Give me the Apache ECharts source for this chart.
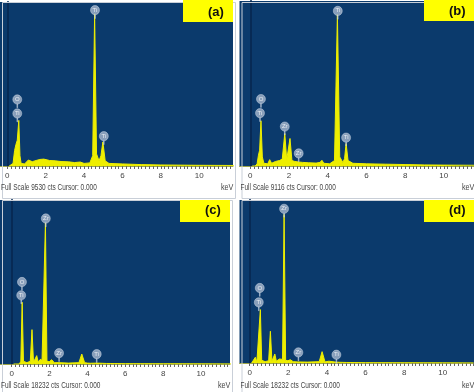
<!DOCTYPE html>
<html>
<head>
    <meta charset="utf-8">
    <title>EDS spectra</title>
    <script src="https://cdn.jsdelivr.net/npm/echarts@6/dist/echarts.min.js"></script>
    <style>
        html, body { margin: 0; padding: 0; background: #fff; }
    </style>
</head>
<body>
    <div id="main" style="width: 474px;height:392px;"></div>
    <script type="text/javascript">
        // 4 EDS spectra, x = keV, y = counts
        var panelNames = ['(a)', '(b)', '(c)', '(d)'];
        var fullScale = [9530, 9116, 18232, 18232];

        var energyA = [0.1, 0.2, 0.3, 0.38, 0.45, 0.52, 0.6, 0.66, 0.72, 0.9, 1.1, 1.3, 1.5, 1.7, 1.9, 2.0, 2.2, 2.5, 2.8, 3.2, 3.5, 3.8, 4.0, 4.3, 4.45, 4.55, 4.65, 4.78, 4.88, 4.98, 5.1, 5.3, 6, 7, 8, 9, 10, 11.8];
        var countsA = [0, 0, 150, 900, 1250, 1500, 2650, 600, 150, 120, 350, 250, 320, 380, 400, 450, 320, 300, 260, 240, 200, 230, 150, 180, 600, 8850, 700, 300, 600, 1400, 300, 150, 120, 80, 60, 50, 40, 30];

        var energyB = [0.1, 0.25, 0.35, 0.42, 0.48, 0.55, 0.62, 0.7, 0.9, 1.0, 1.1, 1.3, 1.5, 1.65, 1.78, 1.88, 1.96, 2.05, 2.15, 2.3, 2.5, 2.7, 3.0, 3.4, 3.6, 3.7, 3.8, 4.1, 4.35, 4.5, 4.62, 4.78, 4.87, 4.95, 5.05, 5.3, 6, 7, 8, 9, 10, 11.6];
        var countsB = [0, 0, 120, 600, 870, 2500, 500, 150, 120, 350, 150, 250, 300, 380, 1795, 350, 300, 1520, 300, 250, 220, 200, 180, 160, 200, 315, 150, 120, 300, 8375, 500, 200, 400, 1240, 300, 150, 120, 100, 80, 60, 50, 40];

        var energyC = [0.1, 0.4, 0.48, 0.55, 0.62, 0.8, 0.98, 1.07, 1.15, 1.24, 1.32, 1.4, 1.47, 1.53, 1.6, 1.7, 1.78, 1.86, 1.98, 2.11, 2.25, 2.5, 3.0, 3.55, 3.7, 3.85, 4.0, 4.05, 4.15, 4.5, 5, 6, 8, 10, 11.6];
        var countsC = [0, 0, 300, 6870, 300, 150, 300, 3820, 200, 250, 930, 200, 300, 560, 300, 400, 15700, 300, 250, 480, 150, 150, 100, 150, 1110, 150, 100, 250, 80, 100, 60, 40, 30, 20, 10];

        var energyD = [0.1, 0.2, 0.29, 0.37, 0.47, 0.55, 0.62, 0.8, 0.98, 1.07, 1.15, 1.24, 1.3, 1.38, 1.47, 1.54, 1.62, 1.7, 1.78, 1.86, 1.98, 2.1, 2.25, 2.5, 3.0, 3.6, 3.75, 3.9, 4.0, 4.1, 4.2, 4.5, 5, 6, 8, 10, 11.6];
        var countsD = [0, 0, 640, 100, 250, 5975, 300, 150, 250, 3550, 200, 250, 1010, 200, 250, 450, 250, 400, 16620, 300, 250, 375, 150, 120, 100, 150, 1270, 120, 100, 200, 80, 90, 60, 40, 30, 20, 10];

        // peak markers: keV, counts, element
        var peakKevA = [0.52, 0.52, 4.57, 5.03];
        var peakCtsA = [3875, 3060, 9065, 1743];
        var peakElA = ['O', 'Ti', 'Ti', 'Ti'];

        var peakKevB = [0.55, 0.5, 1.78, 2.5, 4.52, 4.95];
        var peakCtsB = [3707, 2929, 2186, 705, 8577, 1574];
        var peakElB = ['O', 'Ti', 'Zr', 'Zr', 'Ti', 'Ti'];

        var peakKevC = [0.54, 0.5, 1.8, 2.5, 4.49];
        var peakCtsC = [9130, 7650, 16190, 1225, 1114];
        var peakElC = ['O', 'Ti', 'Zr', 'Zr', 'Ti'];

        var peakKevD = [0.52, 0.47, 1.78, 2.52, 4.49];
        var peakCtsD = [8405, 6800, 17260, 1200, 940];
        var peakElD = ['O', 'Ti', 'Zr', 'Zr', 'Ti'];

        var xLabels = [0, 2, 4, 6, 8, 10];

        var spectra = [
            [energyA, countsA], [energyB, countsB], [energyC, countsC], [energyD, countsD]
        ];
        var peaks = [
            [peakKevA, peakCtsA, peakElA], [peakKevB, peakCtsB, peakElB],
            [peakKevC, peakCtsC, peakElC], [peakKevD, peakCtsD, peakElD]
        ];

        // layout of each panel (pixels) and x range in keV
        var boxes = [
            { left: 0, top: 2, width: 233, height: 164, xmin: -0.38, xmax: 11.76 },
            { left: 239.5, top: 1, width: 234.5, height: 165, xmin: -0.56, xmax: 11.56 },
            { left: 0, top: 200, width: 230, height: 164, xmin: -0.62, xmax: 11.53 },
            { left: 239.5, top: 200, width: 234.5, height: 163, xmin: -0.53, xmax: 11.62 }
        ];

        var minorTicks = [];
        for (var t = 0; t <= 116; t += 2) minorTicks.push(t / 10);

        var circlePath = 'path://M5,0A5,5,0,1,1,4.99,0ZM4.6,10h0.8v4h-0.8Z';

        var grids = [], xAxes = [], yAxes = [], series = [], graphics = [];
        boxes.forEach(function (b, i) {
            grids.push({
                left: b.left, top: b.top, width: b.width, height: b.height,
                show: true, backgroundColor: '#0b3a6c', borderWidth: 0
            });
            xAxes.push({
                type: 'value', gridIndex: i, min: b.xmin, max: b.xmax,
                axisLine: { onZero: false, lineStyle: { color: '#9ea64a', width: 1 } },
                axisTick: { show: true, customValues: minorTicks, length: 3, lineStyle: { color: '#666' } },
                axisLabel: { customValues: xLabels, fontSize: 8, color: '#444', margin: 6, fontFamily: 'Liberation Sans' },
                splitLine: { show: false }
            });
            yAxes.push({
                type: 'value', gridIndex: i, min: 0, max: fullScale[i],
                axisLine: { show: true, onZero: true, lineStyle: { color: '#072a55', width: 2 } },
                axisTick: { show: false }, axisLabel: { show: false }, splitLine: { show: false }
            });
            var sp = spectra[i];
            series.push({
                type: 'line', xAxisIndex: i, yAxisIndex: i,
                data: sp[0].map(function (e, k) { return [e, sp[1][k]]; }),
                symbol: 'none', lineStyle: { color: '#eeee00', width: 1 },
                areaStyle: { color: '#eeee00', opacity: 1 }, z: 3
            });
            var pk = peaks[i];
            series.push({
                type: 'scatter', xAxisIndex: i, yAxisIndex: i,
                data: pk[0].map(function (e, k) { return { value: [e, pk[1][k]], name: pk[2][k] }; }),
                symbol: circlePath, symbolSize: [9, 13], symbolOffset: [0, 2],
                itemStyle: { color: '#a9b9cf', borderColor: '#dfe6ef', borderWidth: 0.5 },
                label: {
                    show: true, position: 'inside', offset: [0, -2],
                    formatter: '{b}', color: '#fff', fontSize: 6, fontFamily: 'Liberation Sans'
                },
                z: 5
            });

            // yellow panel tag
            graphics.push({
                type: 'rect', left: b.left + b.width - 50, top: b.top - (i < 2 ? 2 : 0),
                shape: { width: 50, height: 22 }, style: { fill: '#ffff00' }, z: 10
            });
            graphics.push({
                type: 'text', left: b.left + b.width - 25, top: b.top + 4, z: 11,
                style: { text: panelNames[i], fill: '#111', font: 'bold 13px Liberation Sans', textAlign: 'center' }
            });
            // footer text
            var footY = i < 2 ? 183 : 381;
            graphics.push({
                type: 'text', x: b.left + 1, y: footY, scaleX: 0.72, z: 11,
                style: { text: 'Full Scale ' + fullScale[i] + ' cts Cursor: 0.000', fill: '#444', font: '9px Liberation Sans' }
            });
            graphics.push({
                type: 'text', x: b.left + b.width - 12, y: footY, scaleX: 0.8, z: 11,
                style: { text: 'keV', fill: '#444', font: '9px Liberation Sans' }
            });
            // light frame around panel
            graphics.push({
                type: 'rect', left: b.left, top: i < 2 ? 0 : 198,
                shape: { width: b.width, height: i < 2 ? 196 : 193 },
                style: { fill: 'none', stroke: '#c9cfd8', lineWidth: 1 }, z: 1
            });
        });

        var myChart = echarts.init(document.getElementById('main'), null, { renderer: 'canvas' });
        myChart.setOption({
            backgroundColor: '#fff',
            animation: false,
            grid: grids,
            xAxis: xAxes,
            yAxis: yAxes,
            series: series,
            graphic: graphics
        });
    </script>
</body>
</html>
